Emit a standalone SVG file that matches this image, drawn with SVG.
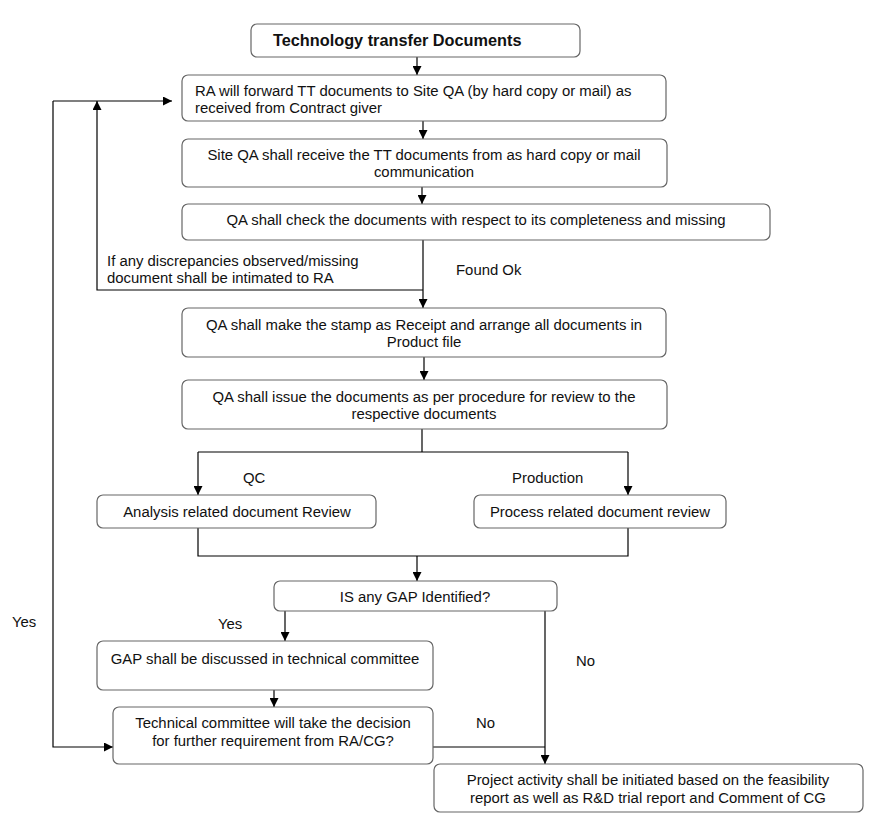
<svg xmlns="http://www.w3.org/2000/svg" width="885" height="827" viewBox="0 0 885 827">
<style>
.b{fill:#fff;stroke:#666;stroke-width:1.2}
.t{font-family:"Liberation Sans",Arial,sans-serif;font-size:14.9px;fill:#111}
.c{text-anchor:middle}
.h{font-weight:bold;font-size:16.3px}
.l{fill:none;stroke:#000;stroke-width:1.2}
</style>
<defs>
<marker id="a" viewBox="0 0 10 10" refX="10" refY="5" markerWidth="9" markerHeight="9" markerUnits="userSpaceOnUse" orient="auto"><path d="M0,0L10,5L0,10z" fill="#000"/></marker>
</defs>
<rect width="885" height="827" fill="#fff"/>
<g id="connectors">
<path class="l" d="M417,57V75" marker-end="url(#a)"/>
<path class="l" d="M423,121V139" marker-end="url(#a)"/>
<path class="l" d="M422,187V204" marker-end="url(#a)"/>
<path class="l" d="M423,240V308" marker-end="url(#a)"/>
<path class="l" d="M423,290H97V101" marker-end="url(#a)"/>
<path class="l" d="M53,101H172" marker-end="url(#a)"/>
<path class="l" d="M53,101V747H113" marker-end="url(#a)"/>
<path class="l" d="M424,357V380" marker-end="url(#a)"/>
<path class="l" d="M422,429V452"/>
<path class="l" d="M198,452H628"/>
<path class="l" d="M198,452V495" marker-end="url(#a)"/>
<path class="l" d="M628,452V495" marker-end="url(#a)"/>
<path class="l" d="M198,528V556H628V528"/>
<path class="l" d="M417,556V581" marker-end="url(#a)"/>
<path class="l" d="M285,611V641" marker-end="url(#a)"/>
<path class="l" d="M274,690V707" marker-end="url(#a)"/>
<path class="l" d="M545,611V764" marker-end="url(#a)"/>
<path class="l" d="M433,747H545"/>
<text class="t" x="107" y="266">If any discrepancies observed/missing</text>
<text class="t" x="107" y="283">document shall be intimated to RA</text>
<text class="t" x="456" y="275">Found Ok</text>
<text class="t" x="243" y="483">QC</text>
<text class="t" x="512" y="483">Production</text>
<text class="t" x="218" y="629">Yes</text>
<text class="t" x="12" y="627">Yes</text>
<text class="t" x="576" y="666">No</text>
<text class="t" x="476" y="728">No</text>
</g>
<g id="n1"><rect class="b" x="251" y="24" width="329" height="33" rx="6"/><text class="t h" x="273" y="46">Technology transfer Documents</text></g>
<g id="n2"><rect class="b" x="182" y="75" width="484" height="46" rx="6"/><text class="t" x="195" y="96">RA will forward TT documents to Site QA (by hard copy or mail) as</text><text class="t" x="195" y="113">received from Contract giver</text></g>
<g id="n3"><rect class="b" x="182" y="139" width="485" height="48" rx="6"/><text class="t c" x="424" y="160">Site QA shall receive the TT documents from as hard copy or mail</text><text class="t c" x="424" y="177">communication</text></g>
<g id="n4"><rect class="b" x="182" y="204" width="588" height="36" rx="6"/><text class="t c" x="476" y="225">QA shall check the documents with respect to its completeness and missing</text></g>
<g id="n5"><rect class="b" x="182" y="308" width="484" height="49" rx="6"/><text class="t c" x="424" y="330">QA shall make the stamp as Receipt and arrange all documents in</text><text class="t c" x="424" y="347">Product file</text></g>
<g id="n6"><rect class="b" x="182" y="380" width="485" height="49" rx="6"/><text class="t c" x="424" y="402">QA shall issue the documents as per procedure for review to the</text><text class="t c" x="424" y="419">respective documents</text></g>
<g id="n7"><rect class="b" x="97" y="495" width="279" height="33" rx="6"/><text class="t c" x="237" y="517">Analysis related document Review</text></g>
<g id="n8"><rect class="b" x="474" y="495" width="252" height="33" rx="6"/><text class="t c" x="600" y="517">Process related document review</text></g>
<g id="n9"><rect class="b" x="274" y="581" width="283" height="30" rx="6"/><text class="t c" x="415" y="602">IS any GAP Identified?</text></g>
<g id="n10"><rect class="b" x="97" y="641" width="336" height="49" rx="6"/><text class="t c" x="265" y="664">GAP shall be discussed in technical committee</text></g>
<g id="n11"><rect class="b" x="113" y="707" width="320" height="57" rx="6"/><text class="t c" x="273" y="728">Technical committee will take the decision</text><text class="t c" x="273" y="746">for further requirement from RA/CG?</text></g>
<g id="n12"><rect class="b" x="434" y="764" width="429" height="48" rx="6"/><text class="t c" x="648" y="785">Project activity shall be initiated based on the feasibility</text><text class="t c" x="648" y="803">report as well as R&amp;D trial report and Comment of CG</text></g>
</svg>
